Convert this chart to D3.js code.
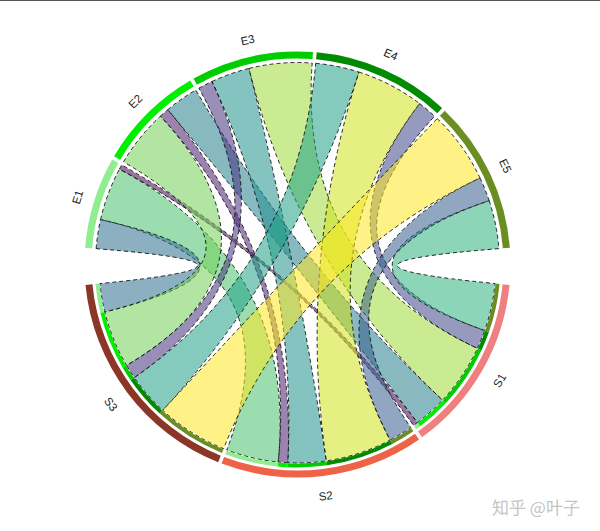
<!DOCTYPE html>
<html>
<head>
<meta charset="utf-8">
<script src="https://cdn.jsdelivr.net/npm/d3@7"></script>
<style>
  body { margin: 0; background: #fff; }
  svg { display: block; }
  .label { font-family: "Liberation Sans", Arial, sans-serif; font-size: 11.5px; fill: #222; }
  .mark { font-family: "Noto Sans CJK SC", sans-serif; font-size: 17px; fill: #c4c4c4; }
</style>
</head>
<body>
<div id="chart"></div>
<script>
// rows (sources) and columns (targets) of the flow matrix
var rowNames = ["E1", "E2", "E3", "E4", "E5"];
var colNames = ["S1", "S2", "S3"];
var toS1 = [1, 7, 13, 4, 10];
var toS2 = [11, 2, 8, 14, 5];
var toS3 = [6, 12, 3, 9, 15];
var rowColors = ["#90EE90", "#00EE00", "#00CD00", "#008B00", "#6B8E23"];
var colColors = ["#F08080", "#EE6347", "#8B3626"];

var columns = [toS1, toS2, toS3];

var width = 600, height = 531,
    cx = 297.5, cy = 264.5,
    bigGap = 10, smallGap = 1, startDeg = -85.5,
    trackInner = 206, trackOuter = 213,
    sourceR = 202, targetR = 198.5,
    barInner = 199, barOuter = 203,
    labelR = 230;

function rad(d) { return d * Math.PI / 180; }

var rowSums = rowNames.map(function (r, i) {
  return d3.sum(columns, function (c) { return c[i]; });
});
var colSums = columns.map(function (c) { return d3.sum(c); });
var total = d3.sum(rowSums);
var unitDeg = (360 - 2 * bigGap - (rowNames.length - 1 + colNames.length - 1) * smallGap) / (2 * total);

var angle = d3.scaleLinear()
  .domain([0, total])
  .range([0, rad(total * unitDeg)]);

var color = d3.scaleSequential(d3.interpolateViridis)
  .domain([d3.min(columns, function (c) { return d3.min(c); }),
           d3.max(columns, function (c) { return d3.max(c); })]);

// sectors, clockwise: E1..E5 then S1..S3
var sectors = [];
var pos = rad(startDeg);
rowNames.forEach(function (name, i) {
  sectors.push({name: name, color: rowColors[i], startAngle: pos, endAngle: pos + angle(rowSums[i])});
  pos += angle(rowSums[i]) + rad(i < rowNames.length - 1 ? smallGap : bigGap);
});
colNames.forEach(function (name, j) {
  sectors.push({name: name, color: colColors[j], startAngle: pos, endAngle: pos + angle(colSums[j])});
  pos += angle(colSums[j]) + rad(smallGap);
});

// positions of each link inside its sectors
var srcBand = {}, tgtBand = {};
rowNames.forEach(function (r, i) {
  var a = sectors[i].startAngle;
  for (var j = colNames.length - 1; j >= 0; j--) {
    var v = columns[j][i];
    srcBand[i + "-" + j] = {startAngle: a, endAngle: a + angle(v)};
    a += angle(v);
  }
});
colNames.forEach(function (c, j) {
  var a = sectors[rowNames.length + j].startAngle;
  for (var i = rowNames.length - 1; i >= 0; i--) {
    var v = columns[j][i];
    tgtBand[i + "-" + j] = {startAngle: a, endAngle: a + angle(v)};
    a += angle(v);
  }
});

var chords = [];
colNames.forEach(function (c, j) {
  rowNames.forEach(function (r, i) {
    chords.push({
      i: i, j: j, value: columns[j][i],
      source: srcBand[i + "-" + j],
      target: tgtBand[i + "-" + j]
    });
  });
});

var svg = d3.select("#chart").append("svg")
  .attr("width", width)
  .attr("height", height);

svg.append("line")
  .attr("x1", 0).attr("x2", width)
  .attr("y1", 0.5).attr("y2", 0.5)
  .attr("stroke", "#555")
  .attr("stroke-width", 1);

var g = svg.append("g")
  .attr("transform", "translate(" + cx + "," + cy + ")");

var ribbon = d3.ribbon()
  .sourceRadius(sourceR)
  .targetRadius(targetR);

g.append("g").attr("class", "links")
  .selectAll("path")
  .data(chords)
  .enter().append("path")
    .attr("d", ribbon)
    .attr("fill", function (d) { return color(d.value); })
    .attr("fill-opacity", 0.55)
    .attr("stroke", "#111")
    .attr("stroke-width", 0.9)
    .attr("stroke-dasharray", "4,3");

// target proportion bars
var bar = d3.arc().innerRadius(barInner).outerRadius(barOuter);
g.append("g").attr("class", "bars")
  .selectAll("path")
  .data(chords)
  .enter().append("path")
    .attr("d", function (d) { return bar(d.target); })
    .attr("fill", function (d) { return rowColors[d.i]; });

// sector grid track
var track = d3.arc().innerRadius(trackInner).outerRadius(trackOuter);
g.append("g").attr("class", "track")
  .selectAll("path")
  .data(sectors)
  .enter().append("path")
    .attr("d", track)
    .attr("fill", function (d) { return d.color; });

g.append("g").attr("class", "labels")
  .selectAll("text")
  .data(sectors)
  .enter().append("text")
    .attr("class", "label")
    .attr("text-anchor", "middle")
    .attr("dy", "0.35em")
    .attr("transform", function (d) {
      var a = (d.startAngle + d.endAngle) / 2;
      var rot = a * 180 / Math.PI;
      while (rot > 180) rot -= 360;
      while (rot <= -180) rot += 360;
      var r = labelR;
      if (Math.abs(rot) > 90) { rot += 180; r += 3; }
      return "translate(" + (r * Math.sin(a)) + "," + (-r * Math.cos(a)) + ") rotate(" + rot + ")";
    })
    .text(function (d) { return d.name; });

svg.append("text")
  .attr("class", "mark")
  .attr("x", 492)
  .attr("y", 514)
  .text("知乎 @叶子");
</script>
</body>
</html>
